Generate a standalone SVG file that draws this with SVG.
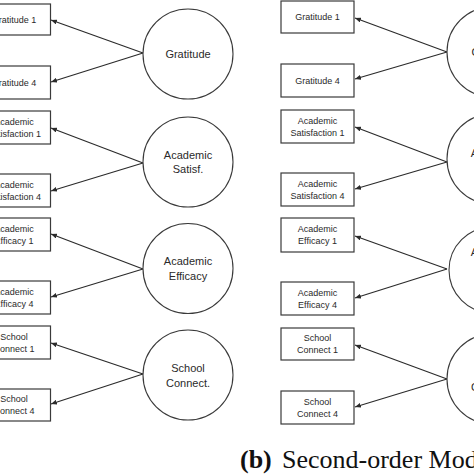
<svg xmlns="http://www.w3.org/2000/svg" width="474" height="474" viewBox="0 0 474 474">
<defs>
<marker id="arr" viewBox="0 0 6 5" refX="6" refY="2.5" markerWidth="6" markerHeight="5" markerUnits="userSpaceOnUse" orient="auto">
<path d="M0,0 L6,2.5 L0,5 Z" fill="#2b2b2b"/>
</marker>
<style>
.box{fill:#fff;stroke:#3a3a3a;stroke-width:1.2}
.circ{fill:#fff;stroke:#3a3a3a;stroke-width:1.1}
.bt{font-family:"Liberation Sans",Arial,sans-serif;font-size:9px;fill:#2a2a2a;text-anchor:middle}
.ct{font-family:"Liberation Sans",Arial,sans-serif;font-size:11px;fill:#2a2a2a;text-anchor:middle}
.ln{stroke:#2b2b2b;stroke-width:1.2;fill:none;marker-end:url(#arr)}
.cap{font-family:"Liberation Serif","Times New Roman",serif;font-size:26px;fill:#111}
</style>
</defs>
<rect width="474" height="474" fill="#fff"/>
<g id="connectors">
<line class="ln" x1="143" y1="53" x2="51" y2="20"/>
<line class="ln" x1="143" y1="53" x2="51" y2="82"/>
<line class="ln" x1="143" y1="163" x2="51" y2="128"/>
<line class="ln" x1="143" y1="163" x2="51" y2="191"/>
<line class="ln" x1="143" y1="269" x2="51" y2="234"/>
<line class="ln" x1="143" y1="269" x2="51" y2="297"/>
<line class="ln" x1="143" y1="374" x2="51" y2="343"/>
<line class="ln" x1="143" y1="374" x2="51" y2="404"/>
<line class="ln" x1="447" y1="52" x2="355" y2="18"/>
<line class="ln" x1="447" y1="52" x2="355" y2="79"/>
<line class="ln" x1="447" y1="162" x2="355" y2="127"/>
<line class="ln" x1="447" y1="162" x2="355" y2="189"/>
<line class="ln" x1="447" y1="269" x2="355" y2="236"/>
<line class="ln" x1="447" y1="269" x2="355" y2="298"/>
<line class="ln" x1="447" y1="379" x2="355" y2="345"/>
<line class="ln" x1="447" y1="379" x2="355" y2="407"/>
</g>
<g id="L-grat1"><rect class="box" x="-22" y="4" width="72.5" height="31"/><text class="bt" x="14" y="23">Gratitude 1</text></g>
<g id="L-grat4"><rect class="box" x="-22" y="66" width="72.5" height="33"/><text class="bt" x="14" y="85.5">Gratitude 4</text></g>
<g id="L-as1"><rect class="box" x="-22" y="111" width="72.5" height="33"/><text class="bt" x="14" y="124.5">Academic</text><text class="bt" x="14" y="136.5">Satisfaction 1</text></g>
<g id="L-as4"><rect class="box" x="-22" y="174" width="72.5" height="33"/><text class="bt" x="14" y="187.5">Academic</text><text class="bt" x="14" y="199.5">Satisfaction 4</text></g>
<g id="L-ae1"><rect class="box" x="-22" y="218" width="72.5" height="33"/><text class="bt" x="14" y="231.5">Academic</text><text class="bt" x="14" y="243.5">Efficacy 1</text></g>
<g id="L-ae4"><rect class="box" x="-22" y="281" width="72.5" height="33"/><text class="bt" x="14" y="294.5">Academic</text><text class="bt" x="14" y="306.5">Efficacy 4</text></g>
<g id="L-sc1"><rect class="box" x="-22" y="326" width="72.5" height="33"/><text class="bt" x="14" y="339.5">School</text><text class="bt" x="14" y="351.5">Connect 1</text></g>
<g id="L-sc4"><rect class="box" x="-22" y="389" width="72.5" height="32"/><text class="bt" x="14" y="402">School</text><text class="bt" x="14" y="414">Connect 4</text></g>
<g id="L-gratitude"><circle class="circ" cx="188" cy="54" r="45"/><text class="ct" x="188" y="58">Gratitude</text></g>
<g id="L-acsat"><circle class="circ" cx="188" cy="162" r="45"/><text class="ct" x="188" y="159">Academic</text><text class="ct" x="188" y="173">Satisf.</text></g>
<g id="L-aceff"><circle class="circ" cx="188" cy="268.5" r="45"/><text class="ct" x="188" y="265">Academic</text><text class="ct" x="188" y="280">Efficacy</text></g>
<g id="L-school"><circle class="circ" cx="188" cy="375" r="45"/><text class="ct" x="188" y="372">School</text><text class="ct" x="188" y="387">Connect.</text></g>
<g id="R-grat1"><rect class="box" x="281" y="1" width="73" height="32"/><text class="bt" x="317.5" y="20">Gratitude 1</text></g>
<g id="R-grat4"><rect class="box" x="281" y="64" width="73" height="33"/><text class="bt" x="317.5" y="83.5">Gratitude 4</text></g>
<g id="R-as1"><rect class="box" x="281" y="110" width="73" height="33"/><text class="bt" x="317.5" y="123.5">Academic</text><text class="bt" x="317.5" y="135.5">Satisfaction 1</text></g>
<g id="R-as4"><rect class="box" x="281" y="173" width="73" height="33"/><text class="bt" x="317.5" y="186.5">Academic</text><text class="bt" x="317.5" y="198.5">Satisfaction 4</text></g>
<g id="R-ae1"><rect class="box" x="281" y="218" width="73" height="34"/><text class="bt" x="317.5" y="232">Academic</text><text class="bt" x="317.5" y="244">Efficacy 1</text></g>
<g id="R-ae4"><rect class="box" x="281" y="282" width="73" height="33"/><text class="bt" x="317.5" y="295.5">Academic</text><text class="bt" x="317.5" y="307.5">Efficacy 4</text></g>
<g id="R-sc1"><rect class="box" x="281" y="328" width="73" height="32"/><text class="bt" x="317.5" y="341">School</text><text class="bt" x="317.5" y="353">Connect 1</text></g>
<g id="R-sc4"><rect class="box" x="281" y="391" width="73" height="33"/><text class="bt" x="317.5" y="404.5">School</text><text class="bt" x="317.5" y="416.5">Connect 4</text></g>
<g id="R-gratitude"><circle class="circ" cx="492" cy="52" r="45"/><text class="ct" x="494" y="56">Gratitude</text></g>
<g id="R-acsat"><circle class="circ" cx="492" cy="159" r="45"/><text class="ct" x="495" y="157">Academic</text><text class="ct" x="495" y="171">Satisf.</text></g>
<g id="R-aceff"><circle class="circ" cx="492" cy="270" r="43"/><text class="ct" x="495" y="256">Academic</text><text class="ct" x="495" y="271">Efficacy</text></g>
<g id="R-school"><circle class="circ" cx="492" cy="379" r="45"/><text class="ct" x="493" y="376">School</text><text class="ct" x="493" y="391">Connect.</text></g>
<text class="cap" x="240" y="468"><tspan font-weight="bold">(b)</tspan><tspan x="282">Second-order Model</tspan></text>
</svg>
